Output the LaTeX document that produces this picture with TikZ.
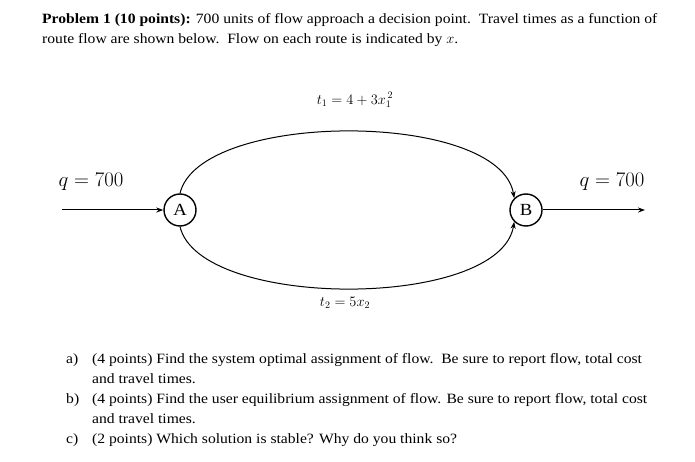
\documentclass[tikz,border=0pt]{standalone}
\usepackage{fontspec}
\setmainfont[FakeStretch=1.1]{Liberation Serif}
\usetikzlibrary{arrows.meta}
\begin{document}
\begin{tikzpicture}[x=1pt,y=-1pt,
  txt/.style={anchor=base west,inner sep=0,font=\fontsize{14.2}{16}\selectfont},
  circ/.style={draw,circle,line width=1.4pt,minimum size=32pt,inner sep=0,font=\fontsize{17}{20}\selectfont},
  arr/.style={-{Stealth[length=7pt,width=5pt]},line width=1pt},
  qlab/.style={font=\fontsize{20}{22}\selectfont,inner sep=0}]
\useasboundingbox (0,0) rectangle (695,462);
\node[txt] (l1) at (42,24) {\textbf{Problem 1 (10 points):} 700 units of flow approach a decision point.\ \ Travel times as a function of};
\node[txt] (l2) at (42,44) {route flow are shown below.\ \ Flow on each route is indicated by $x$.};
\node[circ] (A) at (180,210) {A};
\node[circ] (B) at (526,210) {B};
\coordinate (in) at (62,210);
\coordinate (out) at (645,210);
\draw[arr] (in) -- (A);
\draw[arr] (B) -- (out);
\draw[arr] (A.north) .. controls (200,110) and (500,110) .. (B.north west);
\draw[arr] (A.south) .. controls (200,310) and (500,310) .. (B.south west);
\node[qlab] (q1) at (91,182) {$q = 700$};
\node[qlab] (q2) at (612,182) {$q = 700$};
\node[inner sep=0,font=\fontsize{14}{16}\selectfont] (t1) at (355,100) {$t_1 = 4 + 3x_1^{\,2}$};
\node[inner sep=0,font=\fontsize{14}{16}\selectfont] (t2) at (345,303) {$t_2 = 5x_2$};
\node[txt] (a) at (66,363) {a)};
\node[txt] (at) at (92,363) {(4 points) Find the system optimal assignment of flow.\ \ Be sure to report flow, total cost};
\node[txt] (at2) at (92,383) {and travel times.};
\node[txt] (b) at (66,403) {b)};
\node[txt] (bt) at (92,403) {(4 points) Find the user equilibrium assignment of flow. Be sure to report flow, total cost};
\node[txt] (bt2) at (92,423) {and travel times.};
\node[txt] (c) at (66,443) {c)};
\node[txt] (ct) at (92,443) {(2 points) Which solution is stable? Why do you think so?};
\end{tikzpicture}
\end{document}
